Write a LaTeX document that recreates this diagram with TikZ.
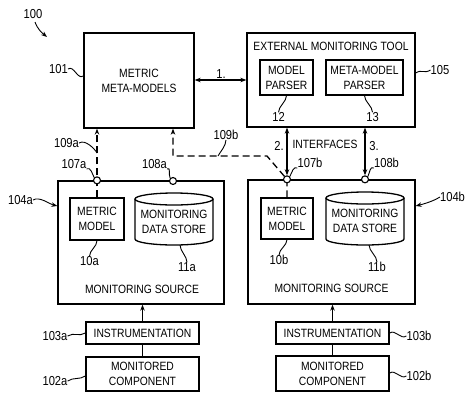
\documentclass[tikz,border=0pt]{standalone}
\usepackage{fontspec}
\setmainfont{Liberation Sans}[FakeStretch=0.86]
\usetikzlibrary{arrows.meta}
\newcommand\boxfont{\fontsize{12}{15}\selectfont}
\newcommand\lblfont{\fontsize{13}{15}\selectfont}
\tikzset{
 box/.style={draw, line width=1.3pt, align=center, font=\boxfont, inner sep=0pt},
 txt/.style={font=\boxfont, align=center, inner sep=0pt},
 lbl/.style={font=\lblfont, inner sep=0pt},
 lead/.style={line width=0.9pt},
 conn/.style={line width=1.3pt},
 dsh/.style={line width=1.3pt, dash pattern=on 7pt off 4pt},
 port/.style={circle, draw, fill=white, line width=1.1pt, minimum size=7pt, inner sep=0pt},
 >={Stealth[length=6pt,width=4.5pt]}
}
\begin{document}
\begin{tikzpicture}[x=1pt,y=1pt]
\useasboundingbox (0,0) rectangle (474,-405);
% main boxes
\node[box, minimum width=110pt, minimum height=95pt] (meta) at (139,-80.5) {METRIC\\META-MODELS};
\node[box, minimum width=168pt, minimum height=94pt] (ext) at (331,-80) {};
\node[txt] (exttitle) at (331,-46) {EXTERNAL MONITORING TOOL};
\node[box, minimum width=53pt, minimum height=35pt] (mp) at (286.5,-77.5) {MODEL\\PARSER};
\node[box, minimum width=77pt, minimum height=35pt] (mmp) at (364.5,-77.5) {META-MODEL\\PARSER};
\node[box, minimum width=166pt, minimum height=123pt] (srcA) at (141,-242.5) {};
\node[box, minimum width=167pt, minimum height=124pt] (srcB) at (331.5,-242) {};
\node[txt] (srcAt) at (142,-289) {MONITORING SOURCE};
\node[txt] (srcBt) at (331.5,-288) {MONITORING SOURCE};
\node[box, minimum width=54pt, minimum height=42pt] (mmA) at (97,-219) {METRIC\\MODEL};
\node[box, minimum width=52pt, minimum height=41pt] (mmB) at (287,-218.5) {METRIC\\MODEL};
% cylinders
\draw[conn] (135,-199) -- (135,-239) arc[start angle=180,end angle=360,x radius=39pt,y radius=6pt] -- (213,-199);
\draw[conn] (174,-199) ellipse[x radius=39pt,y radius=6pt];
\node[txt] (cylA) at (174,-222) {MONITORING\\DATA STORE};
\draw[conn] (326,-198) -- (326,-239) arc[start angle=180,end angle=360,x radius=39pt,y radius=6pt] -- (404,-198);
\draw[conn] (365,-198) ellipse[x radius=39pt,y radius=6pt];
\node[txt] (cylB) at (365,-221) {MONITORING\\DATA STORE};
% lower boxes
\node[box, minimum width=113pt, minimum height=22pt] (instA) at (142.5,-333) {INSTRUMENTATION};
\node[box, minimum width=113pt, minimum height=34pt] (compA) at (142.5,-374) {MONITORED\\COMPONENT};
\node[box, minimum width=113pt, minimum height=22pt] (instB) at (332.5,-333) {INSTRUMENTATION};
\node[box, minimum width=113pt, minimum height=35pt] (compB) at (332.5,-373.5) {MONITORED\\COMPONENT};
\draw[conn] (compA.north) -- (instA.south);
\draw[conn,->] (instA.north) -- (instA.north |- srcA.south);
\draw[conn] (compB.north) -- (instB.south);
\draw[conn,->] (instB.north) -- (instB.north |- srcB.south);
% port positions
\coordinate (cA7) at (mmA.north |- srcA.north);
\coordinate (cA8) at (173,-181);
\coordinate (cB7) at (mmB.north |- srcB.north);
\coordinate (cB8) at (cylB |- srcB.north);
\coordinate (k1) at (267,-156);
% dashed lines
\draw[dsh,->] (mmA.north) -- (mmA.north |- meta.south);
\draw[dsh,->] (mmB.north) -- (cB7) -- (k1) -| (meta.south -| cA8);
% ports
\node[port] (pA7) at (cA7) {};
\node[port] (pA8) at (cA8) {};
\node[port] (pB7) at (cB7) {};
\node[port] (pB8) at (cB8) {};
% interfaces
\draw[conn,<->] (ext.west) -- (ext.west -| meta.east);
\draw[conn,<->] (ext.south -| pB7) -- (pB7);
\draw[conn,<->] (ext.south -| pB8) -- (pB8);
\node[lbl] (n1) at (221,-74) {1.};
\node[lbl] (n2) at (279,-146) {2.};
\node[lbl] (n3) at (374,-146) {3.};
\node[txt] (intf) at (325,-144) {INTERFACES};
% reference labels
\node[lbl] (l100) at (33,-14) {100};
\draw[lead,->] (35,-22) to[out=-70,in=140] (47,-37);
\node[lbl] (l101) at (58.5,-69) {101};
\draw[lead] (l101.east) .. controls +(6,4) and +(-6,-4) .. (meta.west |- 0,-76);
\node[lbl] (l105) at (440,-70) {105};
\draw[lead] (ext.east |- 0,-73) .. controls +(6,4) and +(-6,-4) .. (l105.west);
\node[lbl] (l12) at (278.5,-117) {12};
\draw[lead] (mp.south) .. controls +(0,-6) and +(0,6) .. (l12.north);
\node[lbl] (l13) at (372.5,-117) {13};
\draw[lead] (mmp.south) .. controls +(0,-6) and +(0,6) .. (l13.north);
\node[lbl] (l109a) at (66.5,-143) {109a};
\draw[lead] (l109a.east) .. controls +(6,4) and +(-2,4) .. (97,-153);
\node[lbl] (l107a) at (74,-164) {107a};
\draw[lead] (l107a.south east) .. controls +(4,2) and +(-2,4) .. (pA7.north west);
\node[lbl] (l108a) at (154.5,-164) {108a};
\draw[lead] (l108a.south east) .. controls +(4,2) and +(-2,4) .. (pA8.north west);
\node[lbl] (l109b) at (226,-135) {109b};
\draw[lead] (l109b.south) .. controls +(0,-6) and +(2,4) .. (218,-156);
\node[lbl] (l107b) at (310,-163) {107b};
\draw[lead] (l107b.south west) .. controls +(-4,2) and +(2,4) .. (pB7.north east);
\node[lbl] (l108b) at (386.5,-163) {108b};
\draw[lead] (l108b.south west) .. controls +(-4,2) and +(2,4) .. (pB8.north east);
\node[lbl] (l104a) at (20.5,-200) {104a};
\draw[lead,->] (l104a.east) .. controls +(6,4) and +(-8,2) .. (srcA.west |- 0,-206);
\node[lbl] (l104b) at (452.5,-197) {104b};
\draw[lead,->] (l104b.west) .. controls +(-6,-4) and +(8,2) .. (srcB.east |- 0,-206);
\node[lbl] (l10a) at (89.5,-261) {10a};
\draw[lead] (mmA.south) .. controls +(0,-6) and +(0,6) .. (l10a.north);
\node[lbl] (l11a) at (187,-267) {11a};
\draw[lead] (180,-245) .. controls +(0,-6) and +(0,6) .. (l11a.north);
\node[lbl] (l10b) at (279,-260) {10b};
\draw[lead] (mmB.south) .. controls +(0,-6) and +(0,6) .. (l10b.north);
\node[lbl] (l11b) at (377,-267) {11b};
\draw[lead] (369,-245) .. controls +(0,-6) and +(0,6) .. (l11b.north);
\node[lbl] (l103a) at (55,-336) {103a};
\draw[lead] (l103a.east) .. controls +(6,4) and +(-6,-4) .. (instA.west);
\node[lbl] (l102a) at (55,-381) {102a};
\draw[lead] (l102a.east) .. controls +(6,4) and +(-6,-4) .. (compA.west |- 0,-376);
\node[lbl] (l103b) at (419,-336) {103b};
\draw[lead] (instB.east) .. controls +(6,4) and +(-6,-4) .. (l103b.west);
\node[lbl] (l102b) at (419,-376) {102b};
\draw[lead] (compB.east |- 0,-373) .. controls +(6,4) and +(-6,-4) .. (l102b.west);
\end{tikzpicture}
\end{document}
